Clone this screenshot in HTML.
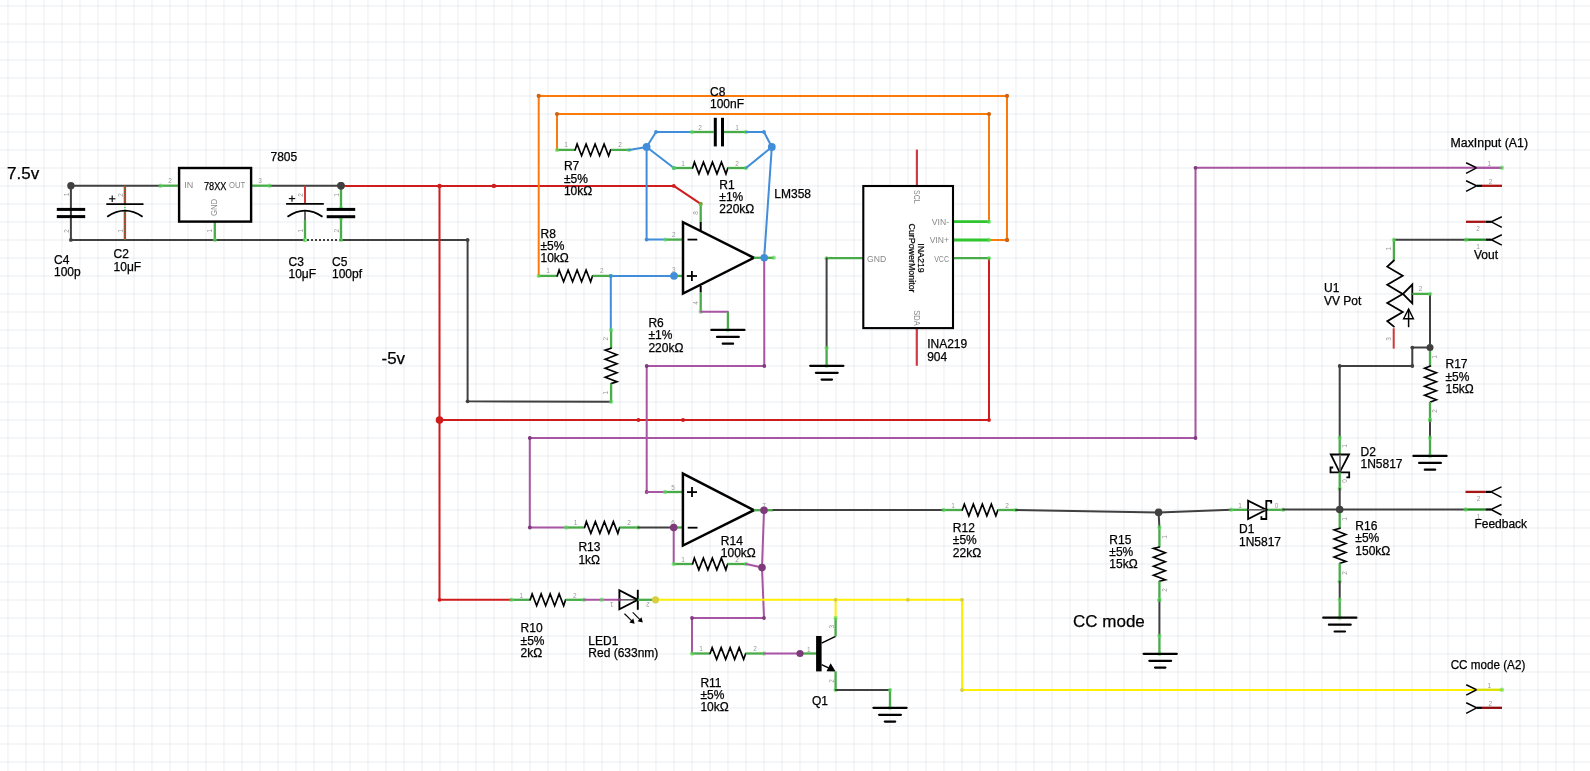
<!DOCTYPE html>
<html><head><meta charset="utf-8"><title>Schematic</title>
<style>html,body{margin:0;padding:0;background:#fff;overflow:hidden}svg{display:block;will-change:transform}text{font-family:"Liberation Sans",sans-serif}</style>
</head><body>
<svg width="1590" height="771" viewBox="0 0 1590 771" font-family="Liberation Sans, sans-serif">
<rect width="1590" height="771" fill="#fff"/>
<g stroke="rgb(170,180,200)" stroke-opacity="0.12" stroke-width="1.8" fill="none"><path d="M8 0V771M26 0V771M44 0V771M62 0V771M80 0V771M98 0V771M116 0V771M134 0V771M152 0V771M170 0V771M188 0V771M206 0V771M224 0V771M242 0V771M260 0V771M278 0V771M296 0V771M314 0V771M332 0V771M350 0V771M368 0V771M386 0V771M404 0V771M422 0V771M440 0V771M458 0V771M476 0V771M494 0V771M512 0V771M530 0V771M548 0V771M566 0V771M584 0V771M602 0V771M620 0V771M638 0V771M656 0V771M674 0V771M692 0V771M710 0V771M728 0V771M746 0V771M764 0V771M782 0V771M800 0V771M818 0V771M836 0V771M854 0V771M872 0V771M890 0V771M908 0V771M926 0V771M944 0V771M962 0V771M980 0V771M998 0V771M1016 0V771M1034 0V771M1052 0V771M1070 0V771M1088 0V771M1106 0V771M1124 0V771M1142 0V771M1160 0V771M1178 0V771M1196 0V771M1214 0V771M1232 0V771M1250 0V771M1268 0V771M1286 0V771M1304 0V771M1322 0V771M1340 0V771M1358 0V771M1376 0V771M1394 0V771M1412 0V771M1430 0V771M1448 0V771M1466 0V771M1484 0V771M1502 0V771M1520 0V771M1538 0V771M1556 0V771M1574 0V771"/><path d="M0 6H1590M0 24H1590M0 42H1590M0 60H1590M0 78H1590M0 96H1590M0 114H1590M0 132H1590M0 150H1590M0 168H1590M0 186H1590M0 204H1590M0 222H1590M0 240H1590M0 258H1590M0 276H1590M0 294H1590M0 312H1590M0 330H1590M0 348H1590M0 366H1590M0 384H1590M0 402H1590M0 420H1590M0 438H1590M0 456H1590M0 474H1590M0 492H1590M0 510H1590M0 528H1590M0 546H1590M0 564H1590M0 582H1590M0 600H1590M0 618H1590M0 636H1590M0 654H1590M0 672H1590M0 690H1590M0 708H1590M0 726H1590M0 744H1590M0 762H1590"/></g>
<polyline points="70.9,185.7 160.5,185.7" stroke="#404040" stroke-width="2.0" fill="none" stroke-linecap="round" stroke-linejoin="round" />
<polyline points="70.9,239.9 467.6,239.9 467.6,401.3 611,401.8" stroke="#404040" stroke-width="2.0" fill="none" stroke-linecap="round" stroke-linejoin="round" />
<circle cx="467.6" cy="239.9" r="1.9" fill="#404040"/>
<circle cx="467.6" cy="401.3" r="1.9" fill="#404040"/>
<polyline points="269.5,185.7 341,185.7" stroke="#404040" stroke-width="2.0" fill="none" stroke-linecap="round" stroke-linejoin="round" />
<line x1="70.9" y1="185.7" x2="70.9" y2="239.9" stroke="#404040" stroke-width="2" stroke-linecap="round" />
<circle cx="70.9" cy="185.7" r="3.7" fill="#404040"/>
<circle cx="70.9" cy="239.9" r="1.9" fill="#404040"/>
<line x1="56.8" y1="209.4" x2="85.2" y2="209.4" stroke="#000" stroke-width="3" stroke-linecap="butt" />
<line x1="56.8" y1="216.6" x2="85.2" y2="216.6" stroke="#000" stroke-width="3" stroke-linecap="butt" />
<text x="0" y="0" font-size="6.5" fill="#999" text-anchor="middle" transform="translate(68.6,194.5) rotate(-90)">1</text>
<text x="0" y="0" font-size="6.5" fill="#999" text-anchor="middle" transform="translate(68.6,230.9) rotate(-90)">2</text>
<line x1="124.9" y1="185.7" x2="124.9" y2="204" stroke="#d23838" stroke-width="2.4"/>
<line x1="124.9" y1="185.7" x2="124.9" y2="204" stroke="#2f8f2f" stroke-width="1.3" stroke-dasharray="1.4 1.4"/>
<line x1="124.9" y1="204" x2="124.9" y2="211" stroke="#49aa49" stroke-width="1.3" stroke-dasharray="1.4 1.4"/>
<line x1="124.9" y1="211" x2="124.9" y2="239.9" stroke="#d23838" stroke-width="2.4"/>
<line x1="124.9" y1="211" x2="124.9" y2="239.9" stroke="#2f8f2f" stroke-width="1.3" stroke-dasharray="1.4 1.4"/>
<line x1="106.3" y1="204.1" x2="143.5" y2="204.1" stroke="#000" stroke-width="1.8" stroke-linecap="butt" />
<path d="M107.2 216.8 Q124.9 204.5 142.6 216.8" stroke="#000" stroke-width="1.8" fill="none"/>
<line x1="109" y1="198.8" x2="115.4" y2="198.8" stroke="#000" stroke-width="1.1" stroke-linecap="butt" />
<line x1="112.2" y1="195.6" x2="112.2" y2="202" stroke="#000" stroke-width="1.1" stroke-linecap="butt" />
<text x="0" y="0" font-size="6.5" fill="#999" text-anchor="middle" transform="translate(122.7,195) rotate(-90)">2</text>
<text x="0" y="0" font-size="6.5" fill="#999" text-anchor="middle" transform="translate(122.7,230.9) rotate(-90)">1</text>
<line x1="178.9" y1="185.7" x2="160.5" y2="185.7" stroke="#49aa49" stroke-width="2.3" stroke-linecap="butt" />
<circle cx="160.5" cy="185.7" r="2.2" fill="#55e055" fill-opacity="0.6"/>
<line x1="251.1" y1="185.7" x2="269.5" y2="185.7" stroke="#49aa49" stroke-width="2.3" stroke-linecap="butt" />
<circle cx="269.5" cy="185.7" r="2.2" fill="#55e055" fill-opacity="0.6"/>
<line x1="214.8" y1="221.6" x2="214.8" y2="239.9" stroke="#49aa49" stroke-width="2.3" stroke-linecap="butt" />
<circle cx="214.8" cy="239.9" r="2.2" fill="#55e055" fill-opacity="0.6"/>
<rect x="179.1" y="168" width="72" height="53.6" fill="#fff" stroke="#000" stroke-width="2.4"/>
<text x="184.2" y="187.8" font-size="9" fill="#888" text-anchor="start" textLength="9" lengthAdjust="spacingAndGlyphs">IN</text>
<text x="204" y="189.5" font-size="10.8" fill="#000" stroke="#000" stroke-width="0.25" text-anchor="start" textLength="22.4" lengthAdjust="spacingAndGlyphs">78XX</text>
<text x="229" y="187.8" font-size="9" fill="#888" text-anchor="start" textLength="16.2" lengthAdjust="spacingAndGlyphs">OUT</text>
<text x="0" y="0" font-size="9" fill="#888" textLength="17.2" lengthAdjust="spacingAndGlyphs" transform="translate(217,216.1) rotate(-90)">GND</text>
<text x="170" y="183.3" font-size="6.5" fill="#999" text-anchor="middle">2</text>
<text x="260" y="183.3" font-size="6.5" fill="#999" text-anchor="middle">3</text>
<text x="0" y="0" font-size="6.5" fill="#999" text-anchor="middle" transform="translate(212.3,230.7) rotate(-90)">1</text>
<line x1="305" y1="185.7" x2="305" y2="204" stroke="#d23838" stroke-width="2" stroke-linecap="butt" />
<line x1="305" y1="210.6" x2="305" y2="220" stroke="#404040" stroke-width="1.6" stroke-linecap="butt" />
<line x1="305" y1="220" x2="305" y2="239.9" stroke="#49aa49" stroke-width="2.3" stroke-linecap="butt" />
<circle cx="305" cy="239.9" r="2.2" fill="#55e055" fill-opacity="0.6"/>
<line x1="286.1" y1="203.9" x2="323.8" y2="203.9" stroke="#000" stroke-width="1.8" stroke-linecap="butt" />
<path d="M287.5 216.8 Q305 204.4 322.5 216.8" stroke="#000" stroke-width="1.8" fill="none"/>
<line x1="288.8" y1="198.6" x2="295.2" y2="198.6" stroke="#000" stroke-width="1.1" stroke-linecap="butt" />
<line x1="292" y1="195.4" x2="292" y2="201.8" stroke="#000" stroke-width="1.1" stroke-linecap="butt" />
<text x="0" y="0" font-size="6.5" fill="#999" text-anchor="middle" transform="translate(303.3,195) rotate(-90)">2</text>
<text x="0" y="0" font-size="6.5" fill="#999" text-anchor="middle" transform="translate(303.3,230.7) rotate(-90)">1</text>
<line x1="341" y1="185.7" x2="341" y2="208" stroke="#49aa49" stroke-width="2.3" stroke-linecap="butt" />
<circle cx="341" cy="208" r="2.2" fill="#55e055" fill-opacity="0.6"/>
<line x1="341" y1="239.9" x2="341" y2="218" stroke="#49aa49" stroke-width="2.3" stroke-linecap="butt" />
<circle cx="341" cy="218" r="2.2" fill="#55e055" fill-opacity="0.6"/>
<line x1="326.7" y1="209.4" x2="355.2" y2="209.4" stroke="#000" stroke-width="3" stroke-linecap="butt" />
<line x1="326.7" y1="216.7" x2="355.2" y2="216.7" stroke="#000" stroke-width="3" stroke-linecap="butt" />
<text x="0" y="0" font-size="6.5" fill="#999" text-anchor="middle" transform="translate(338.6,195) rotate(-90)">1</text>
<text x="0" y="0" font-size="6.5" fill="#999" text-anchor="middle" transform="translate(338.6,230.7) rotate(-90)">2</text>
<circle cx="341" cy="185.7" r="3.7" fill="#404040"/>
<rect x="305" y="238.9" width="36" height="2" fill="#fff"/>
<line x1="307" y1="239.9" x2="341" y2="239.9" stroke="#404040" stroke-width="2" stroke-dasharray="2 2"/>
<circle cx="305" cy="239.9" r="2.2" fill="#55e055" fill-opacity="0.6"/>
<circle cx="341" cy="239.9" r="2.2" fill="#55e055" fill-opacity="0.6"/>
<text x="7" y="179.4" font-size="17" fill="#000" stroke="#000" stroke-width="0.25" text-anchor="start" >7.5v</text>
<text x="54" y="263.6" font-size="12" fill="#000" stroke="#000" stroke-width="0.25" text-anchor="start" >C4</text>
<text x="54" y="275.9" font-size="12" fill="#000" stroke="#000" stroke-width="0.25" text-anchor="start" >100p</text>
<text x="113.6" y="258.4" font-size="12" fill="#000" stroke="#000" stroke-width="0.25" text-anchor="start" >C2</text>
<text x="113.6" y="270.7" font-size="12" fill="#000" stroke="#000" stroke-width="0.25" text-anchor="start" >10μF</text>
<text x="270.5" y="160.6" font-size="12" fill="#000" stroke="#000" stroke-width="0.25" text-anchor="start" >7805</text>
<text x="288.5" y="265.7" font-size="12" fill="#000" stroke="#000" stroke-width="0.25" text-anchor="start" >C3</text>
<text x="288.5" y="278.0" font-size="12" fill="#000" stroke="#000" stroke-width="0.25" text-anchor="start" >10μF</text>
<text x="332" y="265.7" font-size="12" fill="#000" stroke="#000" stroke-width="0.25" text-anchor="start" >C5</text>
<text x="332" y="278.0" font-size="12" fill="#000" stroke="#000" stroke-width="0.25" text-anchor="start" >100pf</text>
<polyline points="341,185.9 673.8,185.9 700.7,203.9" stroke="#cf1c1c" stroke-width="2.0" fill="none" stroke-linecap="round" stroke-linejoin="round" />
<circle cx="673.8" cy="185.9" r="1.9" fill="#cf1c1c"/>
<circle cx="700.7" cy="203.9" r="1.9" fill="#cf1c1c"/>
<circle cx="493.9" cy="185.9" r="2.2" fill="#cf1c1c"/>
<line x1="439.5" y1="185.9" x2="439.5" y2="599.8" stroke="#cf1c1c" stroke-width="2" stroke-linecap="round" />
<circle cx="439.5" cy="185.9" r="2.2" fill="#cf1c1c"/>
<circle cx="341" cy="185.7" r="3.7" fill="#404040"/>
<polyline points="439.5,420 989,420 989,258.2" stroke="#cf1c1c" stroke-width="2.0" fill="none" stroke-linecap="round" stroke-linejoin="round" />
<circle cx="439.5" cy="420" r="3.8" fill="#cf1c1c"/>
<circle cx="638.4" cy="420" r="2" fill="#cf1c1c"/>
<circle cx="683" cy="420" r="2" fill="#cf1c1c"/>
<circle cx="989" cy="420" r="1.9" fill="#cf1c1c"/>
<polyline points="439.5,599.8 511.5,599.8" stroke="#cf1c1c" stroke-width="2.0" fill="none" stroke-linecap="round" stroke-linejoin="round" />
<circle cx="439.5" cy="599.8" r="1.9" fill="#cf1c1c"/>
<polyline points="538.7,275.9 538.7,95.9 1007,95.9 1007,240" stroke="#fb7a0c" stroke-width="2.0" fill="none" stroke-linecap="round" stroke-linejoin="round" />
<circle cx="538.7" cy="95.9" r="2.1" fill="#d4620c"/>
<circle cx="1007" cy="95.9" r="2.1" fill="#d4620c"/>
<circle cx="1007" cy="240" r="2.1" fill="#d4620c"/>
<polyline points="557,149.9 557,114 989,114 989,221.7" stroke="#fb7a0c" stroke-width="2.0" fill="none" stroke-linecap="round" stroke-linejoin="round" />
<circle cx="557" cy="114" r="2.1" fill="#d4620c"/>
<circle cx="989" cy="114" r="2.1" fill="#d4620c"/>
<line x1="989" y1="240" x2="1007" y2="240" stroke="#fb7a0c" stroke-width="2" stroke-linecap="round" />
<line x1="575.1" y1="149.9" x2="557" y2="149.9" stroke="#49aa49" stroke-width="2.3" stroke-linecap="butt" />
<circle cx="557" cy="149.9" r="2.2" fill="#55e055" fill-opacity="0.6"/>
<polyline points="575.1,149.9 577.1,144.0 581.6,155.8 586.1,144.0 590.6,155.8 595.1,144.0 599.6,155.8 604.1,144.0 608.6,155.8 610.6,149.9" stroke="#000" stroke-width="1.65" fill="none" stroke-linecap="round" stroke-linejoin="miter" stroke-miterlimit="10"/>
<line x1="611" y1="149.9" x2="629.1" y2="149.9" stroke="#49aa49" stroke-width="2.3" stroke-linecap="butt" />
<circle cx="629.1" cy="149.9" r="2.2" fill="#55e055" fill-opacity="0.6"/>
<text x="566" y="147.3" font-size="6.5" fill="#999" text-anchor="middle">1</text>
<text x="620" y="147.3" font-size="6.5" fill="#999" text-anchor="middle">2</text>
<polyline points="629.1,149.9 646.6,147" stroke="#418dd9" stroke-width="2.0" fill="none" stroke-linecap="round" stroke-linejoin="round" />
<polyline points="646.6,147 656,132 692,132" stroke="#418dd9" stroke-width="2.0" fill="none" stroke-linecap="round" stroke-linejoin="round" />
<circle cx="656" cy="132" r="1.9" fill="#418dd9"/>
<line x1="713.7" y1="132" x2="692" y2="132" stroke="#49aa49" stroke-width="2.3" stroke-linecap="butt" />
<circle cx="692" cy="132" r="2.2" fill="#55e055" fill-opacity="0.6"/>
<line x1="724" y1="132" x2="746" y2="132" stroke="#49aa49" stroke-width="2.3" stroke-linecap="butt" />
<circle cx="746" cy="132" r="2.2" fill="#55e055" fill-opacity="0.6"/>
<line x1="715.3" y1="117.8" x2="715.3" y2="146.4" stroke="#000" stroke-width="3" stroke-linecap="butt" />
<line x1="722.5" y1="117.8" x2="722.5" y2="146.4" stroke="#000" stroke-width="3" stroke-linecap="butt" />
<text x="700" y="129.8" font-size="6.5" fill="#999" text-anchor="middle">2</text>
<text x="737" y="129.8" font-size="6.5" fill="#999" text-anchor="middle">1</text>
<polyline points="746,132 764,132 771.8,147" stroke="#418dd9" stroke-width="2.0" fill="none" stroke-linecap="round" stroke-linejoin="round" />
<circle cx="764" cy="132" r="1.9" fill="#418dd9"/>
<polyline points="646.6,147 673.9,168" stroke="#418dd9" stroke-width="2.0" fill="none" stroke-linecap="round" stroke-linejoin="round" />
<circle cx="673.9" cy="168" r="1.9" fill="#418dd9"/>
<line x1="692.6" y1="168" x2="673.9" y2="168" stroke="#49aa49" stroke-width="2.3" stroke-linecap="butt" />
<circle cx="673.9" cy="168" r="2.2" fill="#55e055" fill-opacity="0.6"/>
<polyline points="692.6,168 694.45,162.1 698.95,173.9 703.45,162.1 707.95,173.9 712.45,162.1 716.95,173.9 721.45,162.1 725.95,173.9 727.8000000000001,168" stroke="#000" stroke-width="1.65" fill="none" stroke-linecap="round" stroke-linejoin="miter" stroke-miterlimit="10"/>
<line x1="727.8" y1="168" x2="746" y2="168" stroke="#49aa49" stroke-width="2.3" stroke-linecap="butt" />
<circle cx="746" cy="168" r="2.2" fill="#55e055" fill-opacity="0.6"/>
<text x="683" y="165.8" font-size="6.5" fill="#999" text-anchor="middle">1</text>
<text x="737" y="165.8" font-size="6.5" fill="#999" text-anchor="middle">2</text>
<polyline points="746,168 771.8,147" stroke="#418dd9" stroke-width="2.0" fill="none" stroke-linecap="round" stroke-linejoin="round" />
<polyline points="646.6,147 646.6,239.6 665.3,239.6" stroke="#418dd9" stroke-width="2.0" fill="none" stroke-linecap="round" stroke-linejoin="round" />
<circle cx="646.6" cy="239.6" r="1.9" fill="#418dd9"/>
<polyline points="771.8,147 764.2,257.8" stroke="#418dd9" stroke-width="2.0" fill="none" stroke-linecap="round" stroke-linejoin="round" />
<circle cx="646.6" cy="147" r="3.9" fill="#418dd9"/>
<circle cx="771.8" cy="147" r="3.9" fill="#418dd9"/>
<line x1="683" y1="239.6" x2="665.3" y2="239.6" stroke="#49aa49" stroke-width="2.3" stroke-linecap="butt" />
<circle cx="665.3" cy="239.6" r="2.2" fill="#55e055" fill-opacity="0.6"/>
<text x="673.7" y="237.20000000000002" font-size="6.5" fill="#999" text-anchor="middle">2</text>
<text x="673.7" y="272.40000000000003" font-size="6.5" fill="#999" text-anchor="middle">3</text>
<line x1="683" y1="275.9" x2="674" y2="275.9" stroke="#49aa49" stroke-width="2.3" stroke-linecap="butt" />
<polyline points="610.8,275.9 674,275.9" stroke="#418dd9" stroke-width="2.0" fill="none" stroke-linecap="round" stroke-linejoin="round" />
<line x1="557.2" y1="275.9" x2="538.7" y2="275.9" stroke="#49aa49" stroke-width="2.3" stroke-linecap="butt" />
<circle cx="538.7" cy="275.9" r="2.2" fill="#55e055" fill-opacity="0.6"/>
<polyline points="557.2,275.9 559.1,270.0 563.6,281.79999999999995 568.1,270.0 572.6,281.79999999999995 577.1,270.0 581.6,281.79999999999995 586.1,270.0 590.6,281.79999999999995 592.5,275.9" stroke="#000" stroke-width="1.65" fill="none" stroke-linecap="round" stroke-linejoin="miter" stroke-miterlimit="10"/>
<line x1="592.5" y1="275.9" x2="610.8" y2="275.9" stroke="#49aa49" stroke-width="2.3" stroke-linecap="butt" />
<circle cx="610.8" cy="275.9" r="2.2" fill="#55e055" fill-opacity="0.6"/>
<text x="548" y="273.3" font-size="6.5" fill="#999" text-anchor="middle">1</text>
<text x="601.7" y="273.3" font-size="6.5" fill="#999" text-anchor="middle">2</text>
<circle cx="610.8" cy="275.9" r="1.9" fill="#418dd9"/>
<circle cx="674" cy="275.9" r="3.8" fill="#418dd9"/>
<polyline points="610.8,275.9 610.8,329.9" stroke="#418dd9" stroke-width="2.0" fill="none" stroke-linecap="round" stroke-linejoin="round" />
<line x1="611.1" y1="348.2" x2="611.1" y2="329.9" stroke="#49aa49" stroke-width="2.3" stroke-linecap="butt" />
<circle cx="611.1" cy="329.9" r="2.2" fill="#55e055" fill-opacity="0.6"/>
<polyline points="611.1,348.2 605.2,350.15 617.0,354.65 605.2,359.15 617.0,363.65 605.2,368.15 617.0,372.65 605.2,377.15 617.0,381.65 611.1,383.59999999999997" stroke="#000" stroke-width="1.65" fill="none" stroke-linecap="round" stroke-linejoin="miter" stroke-miterlimit="10"/>
<line x1="611.1" y1="383.6" x2="611.1" y2="401.7" stroke="#49aa49" stroke-width="2.3" stroke-linecap="butt" />
<circle cx="611.1" cy="401.7" r="2.2" fill="#55e055" fill-opacity="0.6"/>
<text x="0" y="0" font-size="6.5" fill="#999" text-anchor="middle" transform="translate(608.3,338.7) rotate(-90)">2</text>
<text x="0" y="0" font-size="6.5" fill="#999" text-anchor="middle" transform="translate(608.3,392.6) rotate(-90)">1</text>
<line x1="700.7" y1="222" x2="700.7" y2="230.5" stroke="#000" stroke-width="2" stroke-linecap="butt" />
<line x1="700.7" y1="222" x2="700.7" y2="203.9" stroke="#49aa49" stroke-width="2.3" stroke-linecap="butt" />
<circle cx="700.7" cy="203.9" r="2.2" fill="#55e055" fill-opacity="0.6"/>
<line x1="700.7" y1="286" x2="700.7" y2="292.6" stroke="#000" stroke-width="2" stroke-linecap="butt" />
<line x1="700.7" y1="292.6" x2="700.7" y2="311.7" stroke="#49aa49" stroke-width="2.3" stroke-linecap="butt" />
<circle cx="700.7" cy="311.7" r="2.2" fill="#55e055" fill-opacity="0.6"/>
<text x="0" y="0" font-size="6.5" fill="#999" text-anchor="middle" transform="translate(698.3,213) rotate(-90)">8</text>
<text x="0" y="0" font-size="6.5" fill="#999" text-anchor="middle" transform="translate(698.3,303) rotate(-90)">4</text>
<polygon points="683,222.2 683,293.5 753.9,257.8" fill="#fff" stroke="#000" stroke-width="2.5" stroke-linejoin="miter"/>
<line x1="687.5" y1="239.6" x2="697.3" y2="239.6" stroke="#000" stroke-width="1.8" stroke-linecap="butt" />
<line x1="686.8" y1="276" x2="697" y2="276" stroke="#000" stroke-width="1.8" stroke-linecap="butt" />
<line x1="691.9" y1="270.9" x2="691.9" y2="281.1" stroke="#000" stroke-width="1.8" stroke-linecap="butt" />
<line x1="753.9" y1="257.8" x2="773.9" y2="257.8" stroke="#49aa49" stroke-width="2.3" stroke-linecap="butt" />
<circle cx="773.9" cy="257.8" r="2.2" fill="#55e055" fill-opacity="0.6"/>
<text x="764" y="255.8" font-size="6.5" fill="#999" text-anchor="middle">1</text>
<polyline points="700.7,311.7 727.9,311.7" stroke="#a855a3" stroke-width="2.0" fill="none" stroke-linecap="round" stroke-linejoin="round" />
<line x1="727.9" y1="311.7" x2="727.9" y2="329.9" stroke="#49aa49" stroke-width="2.3" stroke-linecap="butt" />
<circle cx="727.9" cy="329.9" r="2.2" fill="#55e055" fill-opacity="0.6"/>
<line x1="711.3" y1="329.9" x2="744.5" y2="329.9" stroke="#000" stroke-width="2.2" stroke-linecap="round" />
<line x1="717.0" y1="336.9" x2="738.8" y2="336.9" stroke="#000" stroke-width="2.2" stroke-linecap="round" />
<line x1="722.6999999999999" y1="343.7" x2="733.1" y2="343.7" stroke="#000" stroke-width="2.2" stroke-linecap="round" />
<polyline points="764.2,257.8 764.3,366 646.7,366 646.7,492" stroke="#a855a3" stroke-width="2.0" fill="none" stroke-linecap="round" stroke-linejoin="round" />
<circle cx="764.3" cy="366" r="1.9" fill="#7e3b7c"/>
<circle cx="646.7" cy="366" r="1.9" fill="#7e3b7c"/>
<circle cx="646.7" cy="492" r="1.9" fill="#7e3b7c"/>
<circle cx="764.2" cy="257.8" r="3.8" fill="#418dd9"/>
<text x="710" y="96.2" font-size="12" fill="#000" stroke="#000" stroke-width="0.25" text-anchor="start" >C8</text>
<text x="710" y="108.0" font-size="12" fill="#000" stroke="#000" stroke-width="0.25" text-anchor="start" >100nF</text>
<text x="563.9" y="170.3" font-size="12" fill="#000" stroke="#000" stroke-width="0.25" text-anchor="start" >R7</text>
<text x="563.9" y="182.55" font-size="12" fill="#000" stroke="#000" stroke-width="0.25" text-anchor="start" >±5%</text>
<text x="563.9" y="194.8" font-size="12" fill="#000" stroke="#000" stroke-width="0.25" text-anchor="start" >10kΩ</text>
<text x="719.3" y="189.0" font-size="12" fill="#000" stroke="#000" stroke-width="0.25" text-anchor="start" >R1</text>
<text x="719.3" y="201.2" font-size="12" fill="#000" stroke="#000" stroke-width="0.25" text-anchor="start" >±1%</text>
<text x="719.3" y="213.4" font-size="12" fill="#000" stroke="#000" stroke-width="0.25" text-anchor="start" >220kΩ</text>
<text x="774.3" y="197.9" font-size="12" fill="#000" stroke="#000" stroke-width="0.25" text-anchor="start" >LM358</text>
<text x="540.5" y="237.6" font-size="12" fill="#000" stroke="#000" stroke-width="0.25" text-anchor="start" >R8</text>
<text x="540.5" y="249.85" font-size="12" fill="#000" stroke="#000" stroke-width="0.25" text-anchor="start" >±5%</text>
<text x="540.5" y="262.1" font-size="12" fill="#000" stroke="#000" stroke-width="0.25" text-anchor="start" >10kΩ</text>
<text x="648.4" y="327.1" font-size="12" fill="#000" stroke="#000" stroke-width="0.25" text-anchor="start" >R6</text>
<text x="648.4" y="339.35" font-size="12" fill="#000" stroke="#000" stroke-width="0.25" text-anchor="start" >±1%</text>
<text x="648.4" y="351.6" font-size="12" fill="#000" stroke="#000" stroke-width="0.25" text-anchor="start" >220kΩ</text>
<text x="381.5" y="363.6" font-size="17" fill="#000" stroke="#000" stroke-width="0.25" text-anchor="start" >-5v</text>
<line x1="916.9" y1="149.6" x2="916.9" y2="186" stroke="#d03a48" stroke-width="2.2"/>
<line x1="916.8" y1="328" x2="916.8" y2="365.8" stroke="#d03a48" stroke-width="2.2"/>
<line x1="953.3" y1="221.7" x2="989" y2="221.7" stroke="#2ec52e" stroke-width="2.8" stroke-linecap="butt" />
<circle cx="989" cy="221.7" r="2.2" fill="#55e055" fill-opacity="0.6"/>
<line x1="953.3" y1="240" x2="989" y2="240" stroke="#2ec52e" stroke-width="2.8" stroke-linecap="butt" />
<circle cx="989" cy="240" r="2.2" fill="#55e055" fill-opacity="0.6"/>
<line x1="953.3" y1="258.2" x2="989" y2="258.2" stroke="#49aa49" stroke-width="2.2" stroke-linecap="butt" />
<circle cx="989" cy="258.2" r="2.2" fill="#55e055" fill-opacity="0.6"/>
<line x1="863.3" y1="258.2" x2="826.6" y2="258.2" stroke="#49aa49" stroke-width="2.2" stroke-linecap="butt" />
<circle cx="826.6" cy="258.2" r="2.2" fill="#55e055" fill-opacity="0.6"/>
<circle cx="1007" cy="240" r="2.1" fill="#d4620c"/>
<rect x="863.3" y="186" width="89.7" height="142.1" fill="#fff" stroke="#000" stroke-width="2.1"/>
<text x="949" y="225" font-size="8.6" fill="#888" text-anchor="end" >VIN-</text>
<text x="949" y="243.3" font-size="8.6" fill="#888" text-anchor="end" >VIN+</text>
<text x="949" y="261.5" font-size="8.6" fill="#888" text-anchor="end" textLength="14.8" lengthAdjust="spacingAndGlyphs">VCC</text>
<text x="867" y="261.5" font-size="8.6" fill="#888" text-anchor="start" >GND</text>
<text x="0" y="0" font-size="8.6" fill="#888" textLength="13.5" lengthAdjust="spacingAndGlyphs" transform="translate(913.6,190) rotate(90)">SCL</text>
<text x="0" y="0" font-size="8.6" fill="#888" textLength="15.5" lengthAdjust="spacingAndGlyphs" transform="translate(913.6,310.2) rotate(90)">SDA</text>
<text x="0" y="0" font-size="8.9" fill="#000" stroke="#000" stroke-width="0.2" text-anchor="middle" transform="translate(917.5,258) rotate(90)">INA219</text>
<text x="0" y="0" font-size="8.9" fill="#000" stroke="#000" stroke-width="0.2" text-anchor="middle" transform="translate(909,258) rotate(90)">CurPowerMonitor</text>
<polyline points="826.6,258.2 826.6,347.9" stroke="#404040" stroke-width="2.0" fill="none" stroke-linecap="round" stroke-linejoin="round" />
<line x1="826.6" y1="347.9" x2="826.6" y2="365.8" stroke="#49aa49" stroke-width="2.3" stroke-linecap="butt" />
<circle cx="826.6" cy="365.8" r="2.2" fill="#55e055" fill-opacity="0.6"/>
<circle cx="826.6" cy="347.9" r="2.2" fill="#55e055" fill-opacity="0.6"/>
<line x1="810.1999999999999" y1="365.8" x2="843.4" y2="365.8" stroke="#000" stroke-width="2.2" stroke-linecap="round" />
<line x1="815.9" y1="372.8" x2="837.6999999999999" y2="372.8" stroke="#000" stroke-width="2.2" stroke-linecap="round" />
<line x1="821.5999999999999" y1="379.6" x2="832.0" y2="379.6" stroke="#000" stroke-width="2.2" stroke-linecap="round" />
<text x="927.2" y="347.9" font-size="12" fill="#000" stroke="#000" stroke-width="0.25" text-anchor="start" >INA219</text>
<text x="927.2" y="360.7" font-size="12" fill="#000" stroke="#000" stroke-width="0.25" text-anchor="start" >904</text>
<polyline points="529.8,527.5 529.8,438 1195.5,438 1195.5,167.8 1502,167.8" stroke="#a855a3" stroke-width="2.0" fill="none" stroke-linecap="round" stroke-linejoin="round" />
<circle cx="529.8" cy="438" r="1.9" fill="#7e3b7c"/>
<circle cx="1195.5" cy="438" r="1.9" fill="#7e3b7c"/>
<circle cx="1195.5" cy="167.8" r="1.9" fill="#7e3b7c"/>
<polyline points="646.7,492 665,492" stroke="#a855a3" stroke-width="2.0" fill="none" stroke-linecap="round" stroke-linejoin="round" />
<line x1="683" y1="492" x2="665" y2="492" stroke="#49aa49" stroke-width="2.3" stroke-linecap="butt" />
<circle cx="665" cy="492" r="2.2" fill="#55e055" fill-opacity="0.6"/>
<polyline points="529.8,527.5 566.1,527.5" stroke="#a855a3" stroke-width="2.0" fill="none" stroke-linecap="round" stroke-linejoin="round" />
<circle cx="529.8" cy="527.5" r="1.9" fill="#7e3b7c"/>
<line x1="584.6" y1="527.5" x2="566.1" y2="527.5" stroke="#49aa49" stroke-width="2.3" stroke-linecap="butt" />
<circle cx="566.1" cy="527.5" r="2.2" fill="#55e055" fill-opacity="0.6"/>
<polyline points="584.6,527.5 586.35,521.6 590.85,533.4 595.35,521.6 599.85,533.4 604.35,521.6 608.85,533.4 613.35,521.6 617.85,533.4 619.6,527.5" stroke="#000" stroke-width="1.65" fill="none" stroke-linecap="round" stroke-linejoin="miter" stroke-miterlimit="10"/>
<line x1="619.6" y1="527.5" x2="638.1" y2="527.5" stroke="#49aa49" stroke-width="2.3" stroke-linecap="butt" />
<circle cx="638.1" cy="527.5" r="2.2" fill="#55e055" fill-opacity="0.6"/>
<text x="575.5" y="525.3" font-size="6.5" fill="#999" text-anchor="middle">1</text>
<text x="629" y="525.3" font-size="6.5" fill="#999" text-anchor="middle">2</text>
<polyline points="638.1,527.5 673.7,527.5" stroke="#404040" stroke-width="2.0" fill="none" stroke-linecap="round" stroke-linejoin="round" />
<line x1="673.7" y1="527.5" x2="683" y2="527.5" stroke="#49aa49" stroke-width="2.3" stroke-linecap="butt" />
<polyline points="673.7,527.5 673.7,564" stroke="#a855a3" stroke-width="2.0" fill="none" stroke-linecap="round" stroke-linejoin="round" />
<line x1="692.6" y1="564" x2="673.7" y2="564" stroke="#49aa49" stroke-width="2.3" stroke-linecap="butt" />
<circle cx="673.7" cy="564" r="2.2" fill="#55e055" fill-opacity="0.6"/>
<polyline points="692.6,564 694.35,558.1 698.85,569.9 703.35,558.1 707.85,569.9 712.35,558.1 716.85,569.9 721.35,558.1 725.85,569.9 727.6,564" stroke="#000" stroke-width="1.65" fill="none" stroke-linecap="round" stroke-linejoin="miter" stroke-miterlimit="10"/>
<line x1="727.6" y1="564" x2="746.1" y2="564" stroke="#49aa49" stroke-width="2.3" stroke-linecap="butt" />
<circle cx="746.1" cy="564" r="2.2" fill="#55e055" fill-opacity="0.6"/>
<text x="683" y="561.8" font-size="6.5" fill="#999" text-anchor="middle">1</text>
<text x="737" y="561.8" font-size="6.5" fill="#999" text-anchor="middle">2</text>
<polyline points="746.1,564 762,567.6" stroke="#a855a3" stroke-width="2.0" fill="none" stroke-linecap="round" stroke-linejoin="round" />
<polygon points="682.9,473.6 682.9,545.6 753.9,510.2" fill="#fff" stroke="#000" stroke-width="2.5" stroke-linejoin="miter"/>
<line x1="687" y1="492.1" x2="697" y2="492.1" stroke="#000" stroke-width="1.8" stroke-linecap="butt" />
<line x1="692" y1="487.1" x2="692" y2="497.1" stroke="#000" stroke-width="1.8" stroke-linecap="butt" />
<line x1="687.7" y1="527.7" x2="697.5" y2="527.7" stroke="#000" stroke-width="1.8" stroke-linecap="butt" />
<text x="673" y="489.8" font-size="6.5" fill="#999" text-anchor="middle">5</text>
<text x="673" y="525.3" font-size="6.5" fill="#999" text-anchor="middle">6</text>
<line x1="753.9" y1="510.2" x2="773.3" y2="510.2" stroke="#49aa49" stroke-width="2.3" stroke-linecap="butt" />
<polyline points="773.3,510 943.5,510" stroke="#404040" stroke-width="2.0" fill="none" stroke-linecap="round" stroke-linejoin="round" />
<text x="764" y="507.8" font-size="6.5" fill="#999" text-anchor="middle">7</text>
<polyline points="764,510.2 762,567.6 764,618 692,618 692,653.5" stroke="#a855a3" stroke-width="2.0" fill="none" stroke-linecap="round" stroke-linejoin="round" />
<circle cx="764" cy="618" r="1.9" fill="#7e3b7c"/>
<circle cx="692" cy="618" r="1.9" fill="#7e3b7c"/>
<circle cx="673.7" cy="527.5" r="3.8" fill="#7e3b7c"/>
<circle cx="764" cy="510.2" r="3.8" fill="#7e3b7c"/>
<circle cx="762" cy="567.6" r="3.8" fill="#7e3b7c"/>
<text x="578.4" y="551.4" font-size="12" fill="#000" stroke="#000" stroke-width="0.25" text-anchor="start" >R13</text>
<text x="578.4" y="563.5" font-size="12" fill="#000" stroke="#000" stroke-width="0.25" text-anchor="start" >1kΩ</text>
<text x="720.8" y="544.6" font-size="12" fill="#000" stroke="#000" stroke-width="0.25" text-anchor="start" >R14</text>
<text x="720.8" y="556.7" font-size="12" fill="#000" stroke="#000" stroke-width="0.25" text-anchor="start" >100kΩ</text>
<line x1="962.3" y1="510" x2="943.5" y2="510" stroke="#49aa49" stroke-width="2.3" stroke-linecap="butt" />
<circle cx="943.5" cy="510" r="2.2" fill="#55e055" fill-opacity="0.6"/>
<polyline points="962.3,510 964.35,504.1 968.85,515.9 973.35,504.1 977.85,515.9 982.35,504.1 986.85,515.9 991.35,504.1 995.85,515.9 997.9,510" stroke="#000" stroke-width="1.65" fill="none" stroke-linecap="round" stroke-linejoin="miter" stroke-miterlimit="10"/>
<line x1="997.9" y1="510" x2="1016" y2="510" stroke="#49aa49" stroke-width="2.3" stroke-linecap="butt" />
<circle cx="1016" cy="510" r="2.2" fill="#55e055" fill-opacity="0.6"/>
<text x="953" y="507.8" font-size="6.5" fill="#999" text-anchor="middle">1</text>
<text x="1007" y="507.8" font-size="6.5" fill="#999" text-anchor="middle">2</text>
<text x="952.8" y="531.9" font-size="12" fill="#000" stroke="#000" stroke-width="0.25" text-anchor="start" >R12</text>
<text x="952.8" y="544.2" font-size="12" fill="#000" stroke="#000" stroke-width="0.25" text-anchor="start" >±5%</text>
<text x="952.8" y="556.5" font-size="12" fill="#000" stroke="#000" stroke-width="0.25" text-anchor="start" >22kΩ</text>
<polyline points="1016,510 1158.6,512.4 1231.2,509.8" stroke="#404040" stroke-width="2.0" fill="none" stroke-linecap="round" stroke-linejoin="round" />
<polyline points="1158.6,512.4 1159.4,527.5" stroke="#404040" stroke-width="2.0" fill="none" stroke-linecap="round" stroke-linejoin="round" />
<line x1="1159.4" y1="547" x2="1159.4" y2="527.5" stroke="#49aa49" stroke-width="2.3" stroke-linecap="butt" />
<circle cx="1159.4" cy="527.5" r="2.2" fill="#55e055" fill-opacity="0.6"/>
<polyline points="1159.4,547 1153.5,548.35 1165.3000000000002,552.85 1153.5,557.35 1165.3000000000002,561.85 1153.5,566.35 1165.3000000000002,570.85 1153.5,575.35 1165.3000000000002,579.85 1159.4,581.2" stroke="#000" stroke-width="1.65" fill="none" stroke-linecap="round" stroke-linejoin="miter" stroke-miterlimit="10"/>
<line x1="1159.4" y1="581.2" x2="1159.4" y2="599.9" stroke="#49aa49" stroke-width="2.3" stroke-linecap="butt" />
<circle cx="1159.4" cy="599.9" r="2.2" fill="#55e055" fill-opacity="0.6"/>
<polyline points="1159.4,599.9 1159.4,635.7" stroke="#404040" stroke-width="2.0" fill="none" stroke-linecap="round" stroke-linejoin="round" />
<circle cx="1159.4" cy="599.9" r="2.2" fill="#55e055" fill-opacity="0.6"/>
<line x1="1159.4" y1="635.7" x2="1159.4" y2="653.8" stroke="#49aa49" stroke-width="2.3" stroke-linecap="butt" />
<circle cx="1159.4" cy="653.8" r="2.2" fill="#55e055" fill-opacity="0.6"/>
<circle cx="1159.4" cy="635.7" r="2.2" fill="#55e055" fill-opacity="0.6"/>
<text x="0" y="0" font-size="6.5" fill="#999" text-anchor="middle" transform="translate(1166.8,537) rotate(-90)">1</text>
<text x="0" y="0" font-size="6.5" fill="#999" text-anchor="middle" transform="translate(1166.8,590) rotate(-90)">2</text>
<line x1="1143.6000000000001" y1="653.8" x2="1176.8" y2="653.8" stroke="#000" stroke-width="2.2" stroke-linecap="round" />
<line x1="1149.3" y1="660.8" x2="1171.1000000000001" y2="660.8" stroke="#000" stroke-width="2.2" stroke-linecap="round" />
<line x1="1155.0" y1="667.5999999999999" x2="1165.4" y2="667.5999999999999" stroke="#000" stroke-width="2.2" stroke-linecap="round" />
<circle cx="1158.6" cy="512.4" r="3.8" fill="#404040"/>
<text x="1109.3" y="543.6" font-size="12" fill="#000" stroke="#000" stroke-width="0.25" text-anchor="start" >R15</text>
<text x="1109.3" y="555.9" font-size="12" fill="#000" stroke="#000" stroke-width="0.25" text-anchor="start" >±5%</text>
<text x="1109.3" y="568.2" font-size="12" fill="#000" stroke="#000" stroke-width="0.25" text-anchor="start" >15kΩ</text>
<text x="1073" y="626.6" font-size="17" fill="#000" stroke="#000" stroke-width="0.25" text-anchor="start" >CC mode</text>
<line x1="1248.1" y1="509.8" x2="1231.2" y2="509.8" stroke="#49aa49" stroke-width="2.3" stroke-linecap="butt" />
<circle cx="1231.2" cy="509.8" r="2.2" fill="#55e055" fill-opacity="0.6"/>
<line x1="1266.3" y1="509.8" x2="1283.1" y2="509.8" stroke="#49aa49" stroke-width="2.3" stroke-linecap="butt" />
<circle cx="1283.1" cy="509.8" r="2.2" fill="#55e055" fill-opacity="0.6"/>
<polygon points="1248.1,500.8 1248.1,519 1266.3,509.8" fill="none" stroke="#000" stroke-width="1.8" stroke-linejoin="miter"/>
<line x1="1248.1" y1="509.8" x2="1266.3" y2="509.8" stroke="#666" stroke-width="1.6" stroke-linecap="butt" />
<polyline points="1271.2,503.6 1271.2,500.8 1266.3,500.8 1266.3,519 1261.4,519 1261.4,516.2" stroke="#000" stroke-width="1.8" fill="none" stroke-linecap="butt" stroke-linejoin="miter" />
<text x="1240" y="507.8" font-size="6.5" fill="#999" text-anchor="middle">1</text>
<text x="1276.6" y="507.8" font-size="6.5" fill="#999" text-anchor="middle">0</text>
<text x="1239" y="533.2" font-size="12" fill="#000" stroke="#000" stroke-width="0.25" text-anchor="start" >D1</text>
<text x="1239" y="546.2" font-size="12" fill="#000" stroke="#000" stroke-width="0.25" text-anchor="start" >1N5817</text>
<polyline points="1283.1,509.5 1465.5,509.5" stroke="#404040" stroke-width="2.0" fill="none" stroke-linecap="round" stroke-linejoin="round" />
<polyline points="1339.7,366 1339.7,437.7" stroke="#404040" stroke-width="2.0" fill="none" stroke-linecap="round" stroke-linejoin="round" />
<circle cx="1339.7" cy="366" r="1.9" fill="#404040"/>
<line x1="1339.7" y1="454.5" x2="1339.7" y2="437.7" stroke="#49aa49" stroke-width="2.3" stroke-linecap="butt" />
<circle cx="1339.7" cy="437.7" r="2.2" fill="#55e055" fill-opacity="0.6"/>
<polygon points="1330.8,454.5 1349,454.5 1339.7,472.3" fill="none" stroke="#000" stroke-width="1.8" stroke-linejoin="miter"/>
<line x1="1340" y1="454.5" x2="1340" y2="472.3" stroke="#666" stroke-width="1.6" stroke-linecap="butt" />
<polyline points="1333.2,467.5 1330.5,467.5 1330.5,472.4 1349.2,472.4 1349.2,477.4 1346.4,477.4" stroke="#000" stroke-width="1.8" fill="none" stroke-linecap="butt" stroke-linejoin="miter" />
<line x1="1339.7" y1="472.3" x2="1339.7" y2="488.8" stroke="#49aa49" stroke-width="2.3" stroke-linecap="butt" />
<circle cx="1339.7" cy="488.8" r="2.2" fill="#55e055" fill-opacity="0.6"/>
<text x="0" y="0" font-size="6.5" fill="#999" text-anchor="middle" transform="translate(1346.8,446) rotate(-90)">1</text>
<text x="0" y="0" font-size="6.5" fill="#999" text-anchor="middle" transform="translate(1346.8,481) rotate(-90)">0</text>
<polyline points="1339.7,488.8 1339.7,509.5" stroke="#404040" stroke-width="2.0" fill="none" stroke-linecap="round" stroke-linejoin="round" />
<text x="1360.5" y="455.7" font-size="12" fill="#000" stroke="#000" stroke-width="0.25" text-anchor="start" >D2</text>
<text x="1360.5" y="467.8" font-size="12" fill="#000" stroke="#000" stroke-width="0.25" text-anchor="start" >1N5817</text>
<line x1="1339.7" y1="528.2" x2="1339.7" y2="509.5" stroke="#49aa49" stroke-width="2.3" stroke-linecap="butt" />
<polyline points="1340,528.2 1334.1,529.95 1345.9,534.45 1334.1,538.95 1345.9,543.45 1334.1,547.95 1345.9,552.45 1334.1,556.95 1345.9,561.45 1340,563.2" stroke="#000" stroke-width="1.65" fill="none" stroke-linecap="round" stroke-linejoin="miter" stroke-miterlimit="10"/>
<line x1="1339.7" y1="563.2" x2="1339.7" y2="581.4" stroke="#49aa49" stroke-width="2.3" stroke-linecap="butt" />
<circle cx="1339.7" cy="581.4" r="2.2" fill="#55e055" fill-opacity="0.6"/>
<polyline points="1339.7,581.4 1339.7,599.6" stroke="#404040" stroke-width="2.0" fill="none" stroke-linecap="round" stroke-linejoin="round" />
<line x1="1339.7" y1="599.6" x2="1339.7" y2="617.7" stroke="#49aa49" stroke-width="2.3" stroke-linecap="butt" />
<circle cx="1339.7" cy="617.7" r="2.2" fill="#55e055" fill-opacity="0.6"/>
<circle cx="1339.7" cy="599.6" r="2.2" fill="#55e055" fill-opacity="0.6"/>
<text x="0" y="0" font-size="6.5" fill="#999" text-anchor="middle" transform="translate(1346.8,519) rotate(-90)">1</text>
<text x="0" y="0" font-size="6.5" fill="#999" text-anchor="middle" transform="translate(1346.8,573) rotate(-90)">2</text>
<line x1="1323.2" y1="617.7" x2="1356.3999999999999" y2="617.7" stroke="#000" stroke-width="2.2" stroke-linecap="round" />
<line x1="1328.8999999999999" y1="624.7" x2="1350.7" y2="624.7" stroke="#000" stroke-width="2.2" stroke-linecap="round" />
<line x1="1334.6" y1="631.5" x2="1345.0" y2="631.5" stroke="#000" stroke-width="2.2" stroke-linecap="round" />
<circle cx="1339.7" cy="509.5" r="3.8" fill="#404040"/>
<text x="1355.3" y="530.0" font-size="12" fill="#000" stroke="#000" stroke-width="0.25" text-anchor="start" >R16</text>
<text x="1355.3" y="542.35" font-size="12" fill="#000" stroke="#000" stroke-width="0.25" text-anchor="start" >±5%</text>
<text x="1355.3" y="554.7" font-size="12" fill="#000" stroke="#000" stroke-width="0.25" text-anchor="start" >150kΩ</text>
<polyline points="1430,294 1430,347.6 1412.3,347.6 1412.3,366 1339.7,366" stroke="#404040" stroke-width="2.0" fill="none" stroke-linecap="round" stroke-linejoin="round" />
<circle cx="1412.3" cy="347.6" r="1.9" fill="#404040"/>
<circle cx="1412.3" cy="366" r="1.9" fill="#404040"/>
<line x1="1430" y1="366" x2="1430" y2="347.6" stroke="#49aa49" stroke-width="2.3" stroke-linecap="butt" />
<polyline points="1430.5,366 1424.6,368.25 1436.4,372.75 1424.6,377.25 1436.4,381.75 1424.6,386.25 1436.4,390.75 1424.6,395.25 1436.4,399.75 1430.5,402" stroke="#000" stroke-width="1.65" fill="none" stroke-linecap="round" stroke-linejoin="miter" stroke-miterlimit="10"/>
<line x1="1430" y1="402" x2="1430" y2="420" stroke="#49aa49" stroke-width="2.3" stroke-linecap="butt" />
<circle cx="1430" cy="420" r="2.2" fill="#55e055" fill-opacity="0.6"/>
<polyline points="1430,420 1430,437.7" stroke="#404040" stroke-width="2.0" fill="none" stroke-linecap="round" stroke-linejoin="round" />
<circle cx="1430" cy="420" r="2.2" fill="#55e055" fill-opacity="0.6"/>
<line x1="1430" y1="437.7" x2="1430" y2="455.9" stroke="#49aa49" stroke-width="2.3" stroke-linecap="butt" />
<circle cx="1430" cy="455.9" r="2.2" fill="#55e055" fill-opacity="0.6"/>
<circle cx="1430" cy="437.7" r="2.2" fill="#55e055" fill-opacity="0.6"/>
<text x="0" y="0" font-size="6.5" fill="#999" text-anchor="middle" transform="translate(1437.3,357) rotate(-90)">1</text>
<text x="0" y="0" font-size="6.5" fill="#999" text-anchor="middle" transform="translate(1437.3,411) rotate(-90)">2</text>
<line x1="1413.4" y1="455.9" x2="1446.6" y2="455.9" stroke="#000" stroke-width="2.2" stroke-linecap="round" />
<line x1="1419.1" y1="462.9" x2="1440.9" y2="462.9" stroke="#000" stroke-width="2.2" stroke-linecap="round" />
<line x1="1424.8" y1="469.7" x2="1435.2" y2="469.7" stroke="#000" stroke-width="2.2" stroke-linecap="round" />
<circle cx="1430" cy="347.6" r="3.5" fill="#404040"/>
<text x="1445.5" y="368.3" font-size="12" fill="#000" stroke="#000" stroke-width="0.25" text-anchor="start" >R17</text>
<text x="1445.5" y="380.65" font-size="12" fill="#000" stroke="#000" stroke-width="0.25" text-anchor="start" >±5%</text>
<text x="1445.5" y="393.0" font-size="12" fill="#000" stroke="#000" stroke-width="0.25" text-anchor="start" >15kΩ</text>
<polyline points="1393.9,239.7 1466,239.7" stroke="#404040" stroke-width="2.0" fill="none" stroke-linecap="round" stroke-linejoin="round" />
<line x1="1393.9" y1="260.5" x2="1393.9" y2="239.7" stroke="#49aa49" stroke-width="2.3" stroke-linecap="butt" />
<circle cx="1393.9" cy="239.7" r="2.2" fill="#55e055" fill-opacity="0.6"/>
<polyline points="1393.9,260.5 1387.3,266.7 1402.7,275.8 1387.3,284.8 1402.7,293.9 1387.3,303 1402.7,312 1387.3,321.2 1393.9,326.6" stroke="#000" stroke-width="1.8" fill="none" stroke-linecap="round" stroke-linejoin="miter" />
<polygon points="1403,293.9 1412.3,284.5 1412.3,303.3" fill="none" stroke="#000" stroke-width="1.8" stroke-linejoin="miter"/>
<line x1="1408.6" y1="327.2" x2="1408.6" y2="309.5" stroke="#000" stroke-width="1.5" stroke-linecap="butt" />
<polygon points="1403.6,318.8 1408.6,309.1 1413.4,318.8" fill="none" stroke="#000" stroke-width="1.4" stroke-linejoin="miter"/>
<line x1="1412.3" y1="293.9" x2="1430.2" y2="293.9" stroke="#49aa49" stroke-width="2.3" stroke-linecap="butt" />
<circle cx="1430.2" cy="293.9" r="2.2" fill="#55e055" fill-opacity="0.6"/>
<line x1="1393.7" y1="328.3" x2="1393.7" y2="348.6" stroke="#d23838" stroke-width="2" stroke-linecap="butt" />
<text x="0" y="0" font-size="6.5" fill="#999" text-anchor="middle" transform="translate(1391.0,248.8) rotate(-90)">1</text>
<text x="1420.5" y="291.2" font-size="6.5" fill="#999" text-anchor="middle">2</text>
<text x="0" y="0" font-size="6.5" fill="#999" text-anchor="middle" transform="translate(1391.3,339) rotate(-90)">3</text>
<text x="1324" y="292.3" font-size="12" fill="#000" stroke="#000" stroke-width="0.25" text-anchor="start" >U1</text>
<text x="1324" y="304.9" font-size="12" fill="#000" stroke="#000" stroke-width="0.25" text-anchor="start" >VV Pot</text>
<line x1="530.2" y1="599.8" x2="511.5" y2="599.8" stroke="#49aa49" stroke-width="2.3" stroke-linecap="butt" />
<circle cx="511.5" cy="599.8" r="2.2" fill="#55e055" fill-opacity="0.6"/>
<polyline points="530.2,599.8 532.15,593.9 536.65,605.6999999999999 541.15,593.9 545.65,605.6999999999999 550.15,593.9 554.65,605.6999999999999 559.15,593.9 563.65,605.6999999999999 565.6,599.8" stroke="#000" stroke-width="1.65" fill="none" stroke-linecap="round" stroke-linejoin="miter" stroke-miterlimit="10"/>
<line x1="565.6" y1="599.8" x2="584" y2="599.8" stroke="#49aa49" stroke-width="2.3" stroke-linecap="butt" />
<circle cx="584" cy="599.8" r="2.2" fill="#55e055" fill-opacity="0.6"/>
<text x="521.3" y="597.8" font-size="6.5" fill="#999" text-anchor="middle">1</text>
<text x="574.7" y="597.8" font-size="6.5" fill="#999" text-anchor="middle">2</text>
<polyline points="584,599.8 619.4,599.8" stroke="#a855a3" stroke-width="2.0" fill="none" stroke-linecap="round" stroke-linejoin="round" />
<circle cx="601.7" cy="599.8" r="2.2" fill="#55e055" fill-opacity="0.6"/>
<line x1="619.4" y1="599.8" x2="637.8" y2="599.8" stroke="#666" stroke-width="1.6" stroke-linecap="butt" />
<polygon points="619.4,590.2 619.4,609.3 637.8,599.8" fill="none" stroke="#000" stroke-width="1.9" stroke-linejoin="miter"/>
<line x1="637.8" y1="589.8" x2="637.8" y2="609.8" stroke="#000" stroke-width="1.9" stroke-linecap="butt" />
<circle cx="619.4" cy="599.8" r="1.7" fill="#7e3b7c"/>
<line x1="637.8" y1="599.8" x2="655.5" y2="599.8" stroke="#49aa49" stroke-width="2.3" stroke-linecap="butt" />
<line x1="624.8" y1="614" x2="632.5" y2="621.7" stroke="#000" stroke-width="1.1" stroke-linecap="round" />
<polygon points="634.6,623.8 629.3,622.5 633.3,618.5" fill="#000"/>
<line x1="633" y1="612.7" x2="640.7" y2="620.4" stroke="#000" stroke-width="1.1" stroke-linecap="round" />
<polygon points="642.8,622.5 637.5,621.2 641.5,617.2" fill="#000"/>
<text x="0" y="0" font-size="6.5" fill="#999" text-anchor="middle" transform="translate(611.6,601.9000000000001) rotate(180)">1</text>
<text x="0" y="0" font-size="6.5" fill="#999" text-anchor="middle" transform="translate(648,601.9000000000001) rotate(180)">2</text>
<text x="520.6" y="632.4" font-size="12" fill="#000" stroke="#000" stroke-width="0.25" text-anchor="start" >R10</text>
<text x="520.6" y="644.7" font-size="12" fill="#000" stroke="#000" stroke-width="0.25" text-anchor="start" >±5%</text>
<text x="520.6" y="657.0" font-size="12" fill="#000" stroke="#000" stroke-width="0.25" text-anchor="start" >2kΩ</text>
<text x="588.3" y="645.1" font-size="12" fill="#000" stroke="#000" stroke-width="0.25" text-anchor="start" >LED1</text>
<text x="588.3" y="657.4" font-size="12" fill="#000" stroke="#000" stroke-width="0.25" text-anchor="start" >Red (633nm)</text>
<polyline points="655.5,599.8 962,599.8 962,690 1502,690" stroke="#fff000" stroke-width="2.0" fill="none" stroke-linecap="round" stroke-linejoin="round" />
<polyline points="835.6,599.8 835.6,618" stroke="#fff000" stroke-width="2.0" fill="none" stroke-linecap="round" stroke-linejoin="round" />
<circle cx="655.5" cy="599.8" r="3.6" fill="#d6cf3c"/>
<circle cx="835.6" cy="599.8" r="1.9" fill="#d4cd45"/>
<circle cx="907.9" cy="599.8" r="1.9" fill="#d4cd45"/>
<circle cx="962" cy="599.8" r="1.9" fill="#d4cd45"/>
<circle cx="962" cy="690" r="1.9" fill="#d4cd45"/>
<line x1="710.1" y1="653.5" x2="692" y2="653.5" stroke="#49aa49" stroke-width="2.3" stroke-linecap="butt" />
<circle cx="692" cy="653.5" r="2.2" fill="#55e055" fill-opacity="0.6"/>
<polyline points="710.1,653.5 712.15,647.6 716.65,659.4 721.15,647.6 725.65,659.4 730.15,647.6 734.65,659.4 739.15,647.6 743.65,659.4 745.7,653.5" stroke="#000" stroke-width="1.65" fill="none" stroke-linecap="round" stroke-linejoin="miter" stroke-miterlimit="10"/>
<line x1="745.7" y1="653.5" x2="764" y2="653.5" stroke="#49aa49" stroke-width="2.3" stroke-linecap="butt" />
<circle cx="764" cy="653.5" r="2.2" fill="#55e055" fill-opacity="0.6"/>
<text x="701" y="651.3" font-size="6.5" fill="#999" text-anchor="middle">1</text>
<text x="755" y="651.3" font-size="6.5" fill="#999" text-anchor="middle">2</text>
<polyline points="764,653.5 800,653.5" stroke="#a855a3" stroke-width="2.0" fill="none" stroke-linecap="round" stroke-linejoin="round" />
<line x1="800" y1="653.5" x2="818.1" y2="653.5" stroke="#49aa49" stroke-width="2.3" stroke-linecap="butt" />
<circle cx="800" cy="653.5" r="3.6" fill="#7e3b7c"/>
<rect x="816.1" y="636" width="5.5" height="35.4" fill="#000"/>
<line x1="821.6" y1="643.2" x2="835.6" y2="636.4" stroke="#000" stroke-width="1.5" stroke-linecap="butt" />
<line x1="821.6" y1="664.6" x2="830" y2="668.6" stroke="#000" stroke-width="1.5" stroke-linecap="butt" />
<polygon points="835.6,671.4 826.5,671.2 830.6,663.3" fill="#000"/>
<line x1="835.6" y1="636.4" x2="835.6" y2="618" stroke="#49aa49" stroke-width="2.3" stroke-linecap="butt" />
<circle cx="835.6" cy="618" r="2.2" fill="#55e055" fill-opacity="0.6"/>
<line x1="835.6" y1="671.4" x2="835.6" y2="690" stroke="#49aa49" stroke-width="2.3" stroke-linecap="butt" />
<circle cx="835.6" cy="690" r="2.2" fill="#55e055" fill-opacity="0.6"/>
<polyline points="835.6,690 890,690" stroke="#404040" stroke-width="2.0" fill="none" stroke-linecap="round" stroke-linejoin="round" />
<line x1="890" y1="690" x2="890" y2="707.8" stroke="#49aa49" stroke-width="2.3" stroke-linecap="butt" />
<circle cx="890" cy="707.8" r="2.2" fill="#55e055" fill-opacity="0.6"/>
<circle cx="890" cy="690" r="2.2" fill="#55e055" fill-opacity="0.6"/>
<line x1="873.4" y1="707.8" x2="906.6" y2="707.8" stroke="#000" stroke-width="2.2" stroke-linecap="round" />
<line x1="879.1" y1="714.8" x2="900.9" y2="714.8" stroke="#000" stroke-width="2.2" stroke-linecap="round" />
<line x1="884.8" y1="721.5999999999999" x2="895.2" y2="721.5999999999999" stroke="#000" stroke-width="2.2" stroke-linecap="round" />
<text x="0" y="0" font-size="6.5" fill="#999" text-anchor="middle" transform="translate(834.0,626.7) rotate(-90)">3</text>
<text x="808.7" y="651.8" font-size="6.5" fill="#999" text-anchor="middle">1</text>
<text x="0" y="0" font-size="6.5" fill="#999" text-anchor="middle" transform="translate(834.0,681) rotate(-90)">2</text>
<text x="700.4" y="686.6" font-size="12" fill="#000" stroke="#000" stroke-width="0.25" text-anchor="start" >R11</text>
<text x="700.4" y="698.65" font-size="12" fill="#000" stroke="#000" stroke-width="0.25" text-anchor="start" >±5%</text>
<text x="700.4" y="710.7" font-size="12" fill="#000" stroke="#000" stroke-width="0.25" text-anchor="start" >10kΩ</text>
<text x="811.9" y="704.9" font-size="12" fill="#000" stroke="#000" stroke-width="0.25" text-anchor="start" >Q1</text>
<polyline points="1466.1,162.8 1476.6,167.8 1466.1,173.3" stroke="#000" stroke-width="1.5" fill="none" stroke-linecap="butt" stroke-linejoin="miter" />
<line x1="1476.6" y1="167.8" x2="1502" y2="167.8" stroke="#a855a3" stroke-width="2" stroke-linecap="butt" />
<circle cx="1502" cy="167.8" r="2.2" fill="#55e055" fill-opacity="0.6"/>
<polyline points="1466.1,180.8 1476.6,185.8 1466.1,191.3" stroke="#000" stroke-width="1.5" fill="none" stroke-linecap="butt" stroke-linejoin="miter" />
<line x1="1476.6" y1="185.8" x2="1482" y2="185.8" stroke="#000" stroke-width="2.2" stroke-linecap="butt" />
<line x1="1482" y1="185.8" x2="1502" y2="185.8" stroke="#a81515" stroke-width="2.3" stroke-linecap="butt" />
<text x="1489.3" y="165.8" font-size="6.5" fill="#999" text-anchor="middle">1</text>
<text x="1490.5" y="184.3" font-size="6.5" fill="#999" text-anchor="middle">2</text>
<text x="1450.6" y="146.6" font-size="12" fill="#000" stroke="#000" stroke-width="0.25" text-anchor="start" textLength="77.4" lengthAdjust="spacingAndGlyphs">MaxInput (A1)</text>
<line x1="1466" y1="221.8" x2="1485.8" y2="221.8" stroke="#a81515" stroke-width="2.3" stroke-linecap="butt" />
<line x1="1485.8" y1="221.8" x2="1491.3" y2="221.8" stroke="#000" stroke-width="2.2" stroke-linecap="butt" />
<polyline points="1501.8,216.8 1491.3,221.8 1501.8,227.3" stroke="#000" stroke-width="1.5" fill="none" stroke-linecap="butt" stroke-linejoin="miter" />
<line x1="1466" y1="239.7" x2="1485.8" y2="239.7" stroke="#1f8a1f" stroke-width="2.3" stroke-linecap="butt" />
<line x1="1485.8" y1="239.7" x2="1491.3" y2="239.7" stroke="#000" stroke-width="2.2" stroke-linecap="butt" />
<circle cx="1466" cy="239.7" r="2.2" fill="#55e055" fill-opacity="0.6"/>
<polyline points="1501.8,234.7 1491.3,239.7 1501.8,245.2" stroke="#000" stroke-width="1.5" fill="none" stroke-linecap="butt" stroke-linejoin="miter" />
<text x="1478" y="230.8" font-size="6.5" fill="#999" text-anchor="middle">2</text>
<text x="1478" y="249.3" font-size="6.5" fill="#999" text-anchor="middle">1</text>
<text x="1474" y="258.5" font-size="12" fill="#000" stroke="#000" stroke-width="0.25" text-anchor="start" >Vout</text>
<line x1="1465.5" y1="491.9" x2="1485.5" y2="491.9" stroke="#a81515" stroke-width="2.3" stroke-linecap="butt" />
<line x1="1485.5" y1="491.9" x2="1491" y2="491.9" stroke="#000" stroke-width="2.2" stroke-linecap="butt" />
<polyline points="1501.5,486.9 1491,491.9 1501.5,497.4" stroke="#000" stroke-width="1.5" fill="none" stroke-linecap="butt" stroke-linejoin="miter" />
<line x1="1465.5" y1="509.5" x2="1485.5" y2="509.5" stroke="#1f8a1f" stroke-width="2.3" stroke-linecap="butt" />
<line x1="1485.5" y1="509.5" x2="1491" y2="509.5" stroke="#000" stroke-width="2.2" stroke-linecap="butt" />
<circle cx="1465.5" cy="509.5" r="2.2" fill="#55e055" fill-opacity="0.6"/>
<polyline points="1501.5,504.5 1491,509.5 1501.5,515.0" stroke="#000" stroke-width="1.5" fill="none" stroke-linecap="butt" stroke-linejoin="miter" />
<text x="1478.5" y="500.8" font-size="6.5" fill="#999" text-anchor="middle">2</text>
<text x="1478.5" y="519.3" font-size="6.5" fill="#999" text-anchor="middle">1</text>
<text x="1474.4" y="528.2" font-size="12" fill="#000" stroke="#000" stroke-width="0.25" text-anchor="start" >Feedback</text>
<polyline points="1466.2,684.7 1476.7,689.7 1466.2,695.2" stroke="#000" stroke-width="1.5" fill="none" stroke-linecap="butt" stroke-linejoin="miter" />
<line x1="1476.7" y1="689.7" x2="1502" y2="689.7" stroke="#d8e000" stroke-width="2.2" stroke-linecap="butt" />
<circle cx="1502" cy="689.7" r="2.2" fill="#55e055" fill-opacity="0.6"/>
<polyline points="1466.2,702.8 1476.7,707.8 1466.2,713.3" stroke="#000" stroke-width="1.5" fill="none" stroke-linecap="butt" stroke-linejoin="miter" />
<line x1="1476.7" y1="707.8" x2="1482" y2="707.8" stroke="#000" stroke-width="2.2" stroke-linecap="butt" />
<line x1="1482" y1="707.8" x2="1502" y2="707.8" stroke="#8a0c0c" stroke-width="2.3" stroke-linecap="butt" />
<text x="1489.4" y="687.8" font-size="6.5" fill="#999" text-anchor="middle">1</text>
<text x="1490.3" y="706.3" font-size="6.5" fill="#999" text-anchor="middle">2</text>
<text x="1450.7" y="668.6" font-size="12" fill="#000" stroke="#000" stroke-width="0.25" text-anchor="start" textLength="74.6" lengthAdjust="spacingAndGlyphs">CC mode (A2)</text>
</svg>
</body></html>
